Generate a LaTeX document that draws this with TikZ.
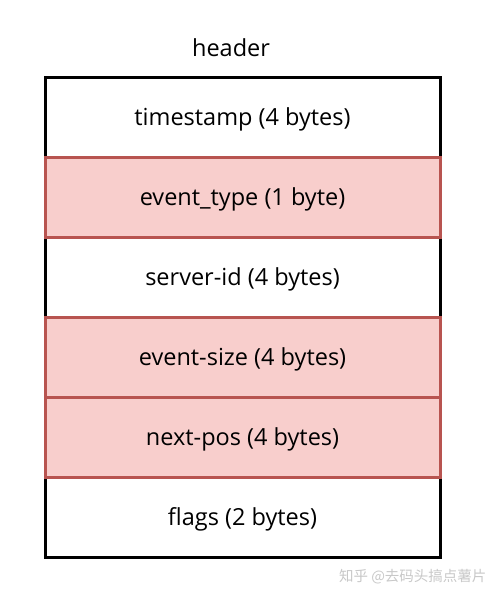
\documentclass[tikz,border=0pt]{standalone}
\usepackage{fontspec}
\setmainfont{Open Sans}
\newfontfamily\cjk{Noto Sans CJK SC}
\definecolor{redfill}{HTML}{F8CECC}
\definecolor{redline}{HTML}{B85450}
\definecolor{wm}{HTML}{C8C8C8}
\begin{document}
\begin{tikzpicture}[x=1pt,y=-1pt,
  field/.style={draw=black,fill=white,line width=3pt,minimum width=395pt,minimum height=80pt,inner sep=0pt},
  redfield/.style={field,draw=redline,fill=redfill},
  lbl/.style={font=\fontsize{23.5}{26}\selectfont}]
\useasboundingbox (0,0) rectangle (500,598);
\node[lbl] (hdr) at (231,48) {header};
\node[field] (ts) at (242.5,117) {};
\node[field] (sid) at (242.5,277) {};
\node[field] (fl) at (242.5,517) {};
\node[redfield] (et) at (242.5,197) {};
\node[redfield] (es) at (242.5,357) {};
\node[redfield] (np) at (242.5,437) {};
\node[lbl] at ([yshift=-2pt]ts.center) {timestamp (4 bytes)};
\node[lbl] at ([yshift=-2pt]et.center) {event\_type (1 byte)};
\node[lbl] at ([yshift=-2pt]sid.center) {server-id (4 bytes)};
\node[lbl] at ([yshift=-2pt]es.center) {event-size (4 bytes)};
\node[lbl] at ([yshift=-2pt]np.center) {next-pos (4 bytes)};
\node[lbl] at ([yshift=-2pt]fl.center) {flags (2 bytes)};
\node[text=wm,font=\cjk\fontsize{14.5}{16}\selectfont,anchor=east] (wmk) at (490,577) {知乎 @去码头搞点薯片};
\end{tikzpicture}
\end{document}
